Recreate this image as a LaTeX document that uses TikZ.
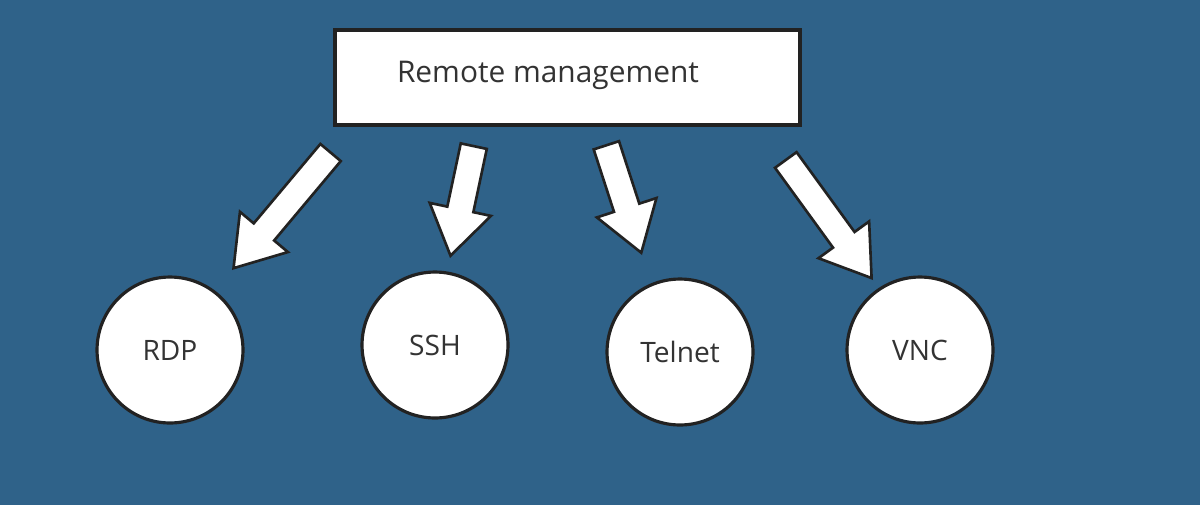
\documentclass[tikz,border=0pt]{standalone}
\usepackage{fontspec}
\setmainfont{Open Sans}
\usetikzlibrary{shapes.arrows}
\definecolor{bg}{HTML}{2F6289}
\definecolor{ink}{HTML}{222222}
\definecolor{txt}{HTML}{333333}
\begin{document}
\begin{tikzpicture}[x=0.02cm,y=-0.02cm,
  box/.style={draw=ink,line width=1.8pt,fill=white,minimum width=9.3cm,minimum height=1.9cm,inner sep=0},
  proto/.style={draw=ink,line width=1.8pt,fill=white,circle,minimum size=2.92cm,inner sep=0,font=\fontsize{16}{18}\selectfont,text=txt},
  fat/.style={draw=ink,line width=1.5pt,fill=white,single arrow,single arrow tip angle=67,
    single arrow head extend=0.36cm,inner sep=0.24cm,anchor=tip,text width=0pt}]
  \fill[bg] (0,0) rectangle (1200,505);
  \node[box] (rm) at (567.5,77.5) {};
  \node[font=\fontsize{17}{20}\selectfont,text=txt] (rmt) at (548,75) {Remote management};
  \node[proto] (rdp) at (170,350) {RDP};
  \node[proto] (ssh) at (435,345) {SSH};
  \node[proto] (tel) at (680,352) {Telnet};
  \node[proto] (vnc) at (920,350) {VNC};
  \node[fat,rotate=-130,minimum height=3.02cm] (a1) at (232,270) {};
  \node[fat,rotate=-102,minimum height=2.24cm] (a2) at (450,258) {};
  \node[fat,rotate=-72,minimum height=2.26cm] (a3) at (642,255) {};
  \node[fat,rotate=-54,minimum height=2.92cm] (a4) at (873,280) {};
\end{tikzpicture}
\end{document}
